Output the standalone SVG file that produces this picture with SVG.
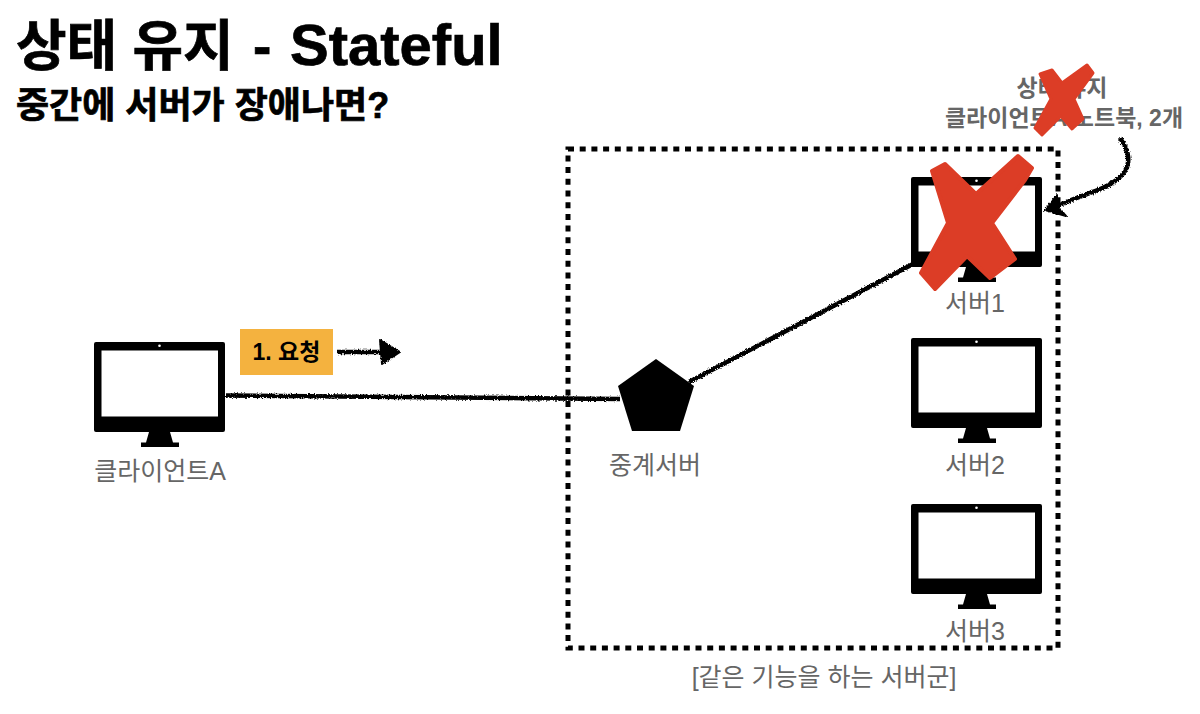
<svg xmlns="http://www.w3.org/2000/svg" width="1200" height="714" viewBox="0 0 1200 714">
<style>
text{font-family:"Liberation Sans","Noto Sans CJK KR",sans-serif}
.t{font-weight:700;fill:#000;stroke:#000;stroke-width:.7}
.l{font-size:25px;fill:#666;text-anchor:middle}
.n{font-size:23px;font-weight:700;fill:#666;text-anchor:middle}
.c{fill:none;stroke:#000;stroke-width:4.500;filter:url(#rough)}
.h{stroke:#000;stroke-width:2;stroke-linejoin:round;filter:url(#rough)}
.x{fill:#dc3d26;stroke:#dc3d26;stroke-linejoin:round}
</style>
<defs>
<filter id="rough" filterUnits="userSpaceOnUse" x="0" y="0" width="1200" height="714">
<feTurbulence type="fractalNoise" baseFrequency="0.7" numOctaves="2" seed="3"/>
<feDisplacementMap in="SourceGraphic" scale="3.500" xChannelSelector="R" yChannelSelector="G"/>
</filter>
<g id="monitor">
<path fill-rule="evenodd" d="M2 0H129a2 2 0 0 1 2 2V88a2 2 0 0 1-2 2H2a2 2 0 0 1-2-2V2a2 2 0 0 1 2-2ZM7.500 8.500V74.500H124V8.500Z"/>
<circle cx="65.500" cy="3.800" r="1.300" fill="#fff"/>
<path d="M55 90H76L79 100.500H85V105H47V100.500H52Z"/>
</g>
</defs>
<rect width="1200" height="714" fill="#fff"/>
<g id="title">
<text class="t" y="65" font-size="55"><tspan x="16">상태 유지</tspan><tspan x="253">-</tspan><tspan x="290" font-size="58">Stateful</tspan></text>
<text class="t" x="16" y="118" font-size="36">중간에 서버가 장애나면?</text>
</g>
<g id="server-group">
<rect x="568" y="149" width="490" height="499" fill="none" stroke="#000" stroke-width="5" stroke-dasharray="6 5.700"/>
<text class="l" x="824" y="686">[같은 기능을 하는 서버군]</text>
</g>
<g id="connectors">
<path class="c" d="M226 395.500L620 399"/>
<path class="c" d="M689 382L913 264"/>
<path class="c" d="M337 352H384"/>
<path class="h" d="M380 340L400 352L382 364Z"/>
<path class="c" d="M1120 138C1130 152 1131 165 1122 175C1108 190 1085 193 1057 206"/>
<path class="h" d="M1045 210L1057 195L1057 206L1066 216Z"/>
</g>
<g id="client-a">
<use href="#monitor" x="94" y="342"/>
<text class="l" x="160" y="480">클라이언트A</text>
</g>
<g id="request-label">
<rect x="240" y="329" width="93" height="46" fill="#f4b23f"/>
<text x="286.500" y="360" font-size="23" font-weight="700" text-anchor="middle" fill="#000">1. 요청</text>
</g>
<g id="relay-server">
<path d="M656 359L694 386L680 431H632L618 386Z"/>
<text class="l" x="655" y="474">중계서버</text>
</g>
<g id="server-1">
<use href="#monitor" x="911" y="177"/>
<text class="l" x="975" y="312">서버1</text>
</g>
<g id="server-2">
<use href="#monitor" x="911" y="338"/>
<text class="l" x="975" y="474">서버2</text>
</g>
<g id="server-3">
<use href="#monitor" x="911" y="504"/>
<text class="l" x="975" y="640">서버3</text>
</g>
<g id="note">
<text class="n" x="1062" y="96">상태 유지</text>
<text class="n" x="1064" y="126">클라이언트A 노트북, 2개</text>
</g>
<g id="x-note">
<path class="x" stroke-width="3" d="M1040 74L1052 70L1062 83L1087 65L1093 73L1074 99L1083 119L1072 129L1061 116L1042 135L1035 128L1051 99Z"/>
</g>
<g id="x-server">
<path class="x" stroke-width="4" d="M932 171L945 164L976 194L1018 156L1032 168L1025 180L992 223L1015 259L990 278L967 256L935 289L921 273L948 223Z"/>
</g>
</svg>
